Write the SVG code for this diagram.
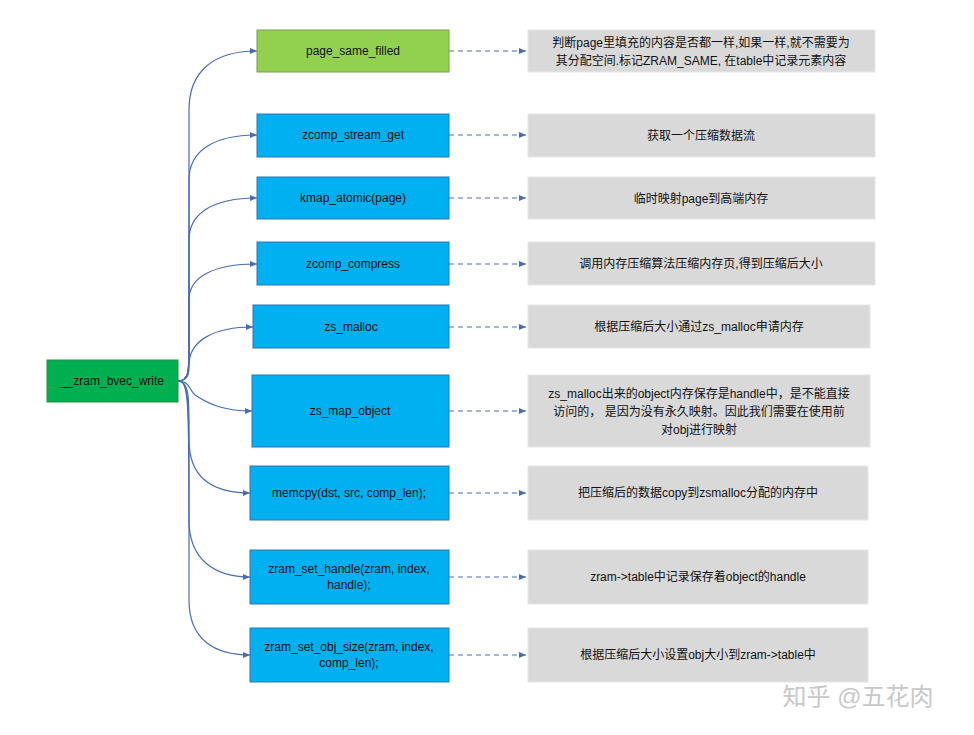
<svg xmlns="http://www.w3.org/2000/svg" width="974" height="735" viewBox="0 0 974 735">
<style>
text{font-family:"Liberation Sans","Noto Sans CJK SC",sans-serif;font-size:12px;fill:#111;text-anchor:middle}
.b{fill:#00b0f0;stroke:#2e75b6;stroke-width:1}
.g{fill:#d9d9d9;stroke:#e6e6e6;stroke-width:1}
.c{fill:none;stroke:#4a6db0;stroke-width:1.2}
.d{fill:none;stroke:#4a6db0;stroke-width:1;stroke-dasharray:5 4}
</style>
<defs><marker id="a" markerWidth="8" markerHeight="8" refX="7" refY="4" orient="auto" markerUnits="userSpaceOnUse"><path d="M0,1 L7,4 L0,7 z" fill="#4a6db0"/></marker></defs>
<rect width="974" height="735" fill="#fff"/>
<g id="connectors">
<path class="c" marker-end="url(#a)" d="M178,381 C190,381 189,370 189,340 V110 C189,70 215,51 257,51"/>
<path class="c" marker-end="url(#a)" d="M178,381 C190,381 189,370 189,340 V180 C189,150 215,135 257,135"/>
<path class="c" marker-end="url(#a)" d="M178,381 C190,381 189,370 189,340 V240 C189,212 215,198 257,198"/>
<path class="c" marker-end="url(#a)" d="M178,381 C190,381 189,370 189,340 V300 C189,276 215,264 257,264"/>
<path class="c" marker-end="url(#a)" d="M178,381 C190,381 189,370 189,365 C189,340 215,327 253,327"/>
<path class="c" marker-end="url(#a)" d="M178,381 C190,381 189,390 195,395 C210,405 225,411 252,411"/>
<path class="c" marker-end="url(#a)" d="M178,381 C190,381 189,400 189,440 C189,480 215,493 250,493"/>
<path class="c" marker-end="url(#a)" d="M178,381 C190,381 189,400 189,520 C189,560 215,577 250,577"/>
<path class="c" marker-end="url(#a)" d="M178,381 C190,381 189,400 189,600 C189,640 215,655 250,655"/>
<path class="d" marker-end="url(#a)" d="M449,51 H526"/>
<path class="d" marker-end="url(#a)" d="M449,135 H526"/>
<path class="d" marker-end="url(#a)" d="M449,198 H526"/>
<path class="d" marker-end="url(#a)" d="M449,264 H526"/>
<path class="d" marker-end="url(#a)" d="M449,327 H526"/>
<path class="d" marker-end="url(#a)" d="M449,411 H526"/>
<path class="d" marker-end="url(#a)" d="M449,493 H526"/>
<path class="d" marker-end="url(#a)" d="M449,577 H526"/>
<path class="d" marker-end="url(#a)" d="M449,655 H526"/>
</g>
<g id="src"><rect x="47" y="360" width="131" height="42" fill="#00b050" stroke="#2e8b3e"/><text x="112" y="385">__zram_bvec_write</text></g>
<g id="n1"><rect x="257" y="30" width="192" height="42" fill="#92d050" stroke="#7a9e4a"/><text x="353" y="55">page_same_filled</text></g>
<g id="n2"><rect class="b" x="257" y="114" width="192" height="43"/><text x="353" y="139">zcomp_stream_get</text></g>
<g id="n3"><rect class="b" x="257" y="177" width="192" height="42"/><text x="353" y="202">kmap_atomic(page)</text></g>
<g id="n4"><rect class="b" x="257" y="242" width="192" height="43"/><text x="353" y="268">zcomp_compress</text></g>
<g id="n5"><rect class="b" x="253" y="305" width="196" height="43"/><text x="351" y="331">zs_malloc</text></g>
<g id="n6"><rect class="b" x="252" y="375" width="197" height="72"/><text x="350" y="415">zs_map_object</text></g>
<g id="n7"><rect class="b" x="250" y="466" width="199" height="54"/><text x="349" y="497">memcpy(dst, src, comp_len);</text></g>
<g id="n8"><rect class="b" x="250" y="550" width="199" height="54"/><text x="349" y="573">zram_set_handle(zram, index,</text><text x="349" y="589">handle);</text></g>
<g id="n9"><rect class="b" x="250" y="628" width="199" height="54"/><text x="349" y="651">zram_set_obj_size(zram, index,</text><text x="349" y="667">comp_len);</text></g>
<g id="d1"><rect class="g" x="528" y="30" width="347" height="42"/><text x="701" y="47">判断page里填充的内容是否都一样,如果一样,就不需要为</text><text x="701" y="65">其分配空间.标记ZRAM_SAME, 在table中记录元素内容</text></g>
<g id="d2"><rect class="g" x="528" y="114" width="347" height="43"/><text x="701" y="140">获取一个压缩数据流</text></g>
<g id="d3"><rect class="g" x="528" y="177" width="347" height="42"/><text x="701" y="203">临时映射page到高端内存</text></g>
<g id="d4"><rect class="g" x="528" y="242" width="347" height="43"/><text x="701" y="268">调用内存压缩算法压缩内存页,得到压缩后大小</text></g>
<g id="d5"><rect class="g" x="528" y="305" width="342" height="43"/><text x="699" y="331">根据压缩后大小通过zs_malloc申请内存</text></g>
<g id="d6"><rect class="g" x="528" y="375" width="342" height="72"/><text x="699" y="398">zs_malloc出来的object内存保存是handle中，是不能直接</text><text x="699" y="416">访问的， 是因为没有永久映射。因此我们需要在使用前</text><text x="699" y="434">对obj进行映射</text></g>
<g id="d7"><rect class="g" x="528" y="466" width="340" height="54"/><text x="698" y="497">把压缩后的数据copy到zsmalloc分配的内存中</text></g>
<g id="d8"><rect class="g" x="528" y="550" width="340" height="54"/><text x="698" y="581">zram-&gt;table中记录保存着object的handle</text></g>
<g id="d9"><rect class="g" x="528" y="628" width="340" height="54"/><text x="698" y="659">根据压缩后大小设置obj大小到zram-&gt;table中</text></g>
<text x="858" y="705" style="font-size:24px;fill:#c8c8c8">知乎 @五花肉</text>
</svg>
